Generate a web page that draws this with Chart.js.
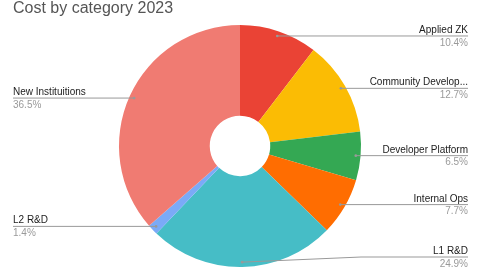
<!DOCTYPE html>
<html>
<head>
<meta charset="utf-8">
<script src="https://cdn.jsdelivr.net/npm/chart.js@4"></script>
<style>
    html, body { margin: 0; padding: 0; background: #fff; }
    #wrap { width: 480px; height: 270px; position: relative; }
</style>
</head>
<body>
<div id="wrap"><canvas id="chart" width="480" height="270"></canvas></div>
<script>
"use strict";

const titleText = "Cost by category 2023";
const categories = ["Applied ZK", "Community Develop...", "Developer Platform", "Internal Ops", "L1 R&D", "L2 R&D", "New Instituitions"];
const shares = [10.4, 12.7, 6.5, 7.7, 24.9, 1.4, 36.5];
const shareLabels = ["10.4%", "12.7%", "6.5%", "7.7%", "24.9%", "1.4%", "36.5%"];
const colors = ["#ea4335", "#fbbc04", "#34a853", "#ff6d01", "#46bdc6", "#7baaf7", "#f07b72"];

const FONT = "'Liberation Sans', Arial, sans-serif";

// leader lines + labels drawn next to the slices
const sideLabels = {
    id: "sideLabels",
    afterDatasetsDraw(chart) {
        const ctx = chart.ctx;
        const arcs = chart.getDatasetMeta(0).data;
        ctx.save();
        ctx.font = "16px " + FONT;
        ctx.fillStyle = "#555";
        ctx.textAlign = "left";
        ctx.textBaseline = "alphabetic";
        ctx.fillText(titleText, 13, 13);

        arcs.forEach((arc, i) => {
            const mid = (arc.startAngle + arc.endAngle) / 2;
            const r = arc.outerRadius * 0.96;
            const ax = arc.x + Math.cos(mid) * r;
            const ay = arc.y + Math.sin(mid) * r;
            const right = Math.cos(mid) >= 0;
            let ly = Math.min(Math.max(ay, 30), 257);
            const edgeX = right ? arc.x + arc.outerRadius : arc.x - arc.outerRadius;
            const endX = right ? 468 : 13;

            ctx.strokeStyle = "#999";
            ctx.lineWidth = 1;
            ctx.beginPath();
            ctx.moveTo(ax, ay);
            if (Math.abs(ly - ay) > 0.5) {
                ctx.lineTo(edgeX, ly);
            }
            ctx.lineTo(endX, ly);
            ctx.stroke();

            ctx.fillStyle = "#999";
            ctx.beginPath();
            ctx.arc(ax, ay, 1.3, 0, Math.PI * 2);
            ctx.fill();

            ctx.textAlign = right ? "right" : "left";
            ctx.font = "10px " + FONT;
            ctx.fillStyle = "#222";
            ctx.textBaseline = "alphabetic";
            ctx.fillText(categories[i], endX, ly - 3);
            ctx.fillStyle = "#9a9a9a";
            ctx.textBaseline = "top";
            ctx.fillText(shareLabels[i], endX, ly + 2);
        });
        ctx.restore();
    }
};

new Chart(document.getElementById("chart"), {
    type: "doughnut",
    data: {
        labels: categories,
        datasets: [{
            data: shares,
            backgroundColor: colors,
            borderWidth: 0
        }]
    },
    options: {
        responsive: false,
        animation: false,
        cutout: "25%",
        layout: {
            padding: { top: 25, bottom: 3, left: 20, right: 20 }
        },
        plugins: {
            legend: { display: false },
            tooltip: { enabled: false },
            title: { display: false }
        },
        events: []
    },
    plugins: [sideLabels]
});
</script>
</body>
</html>
